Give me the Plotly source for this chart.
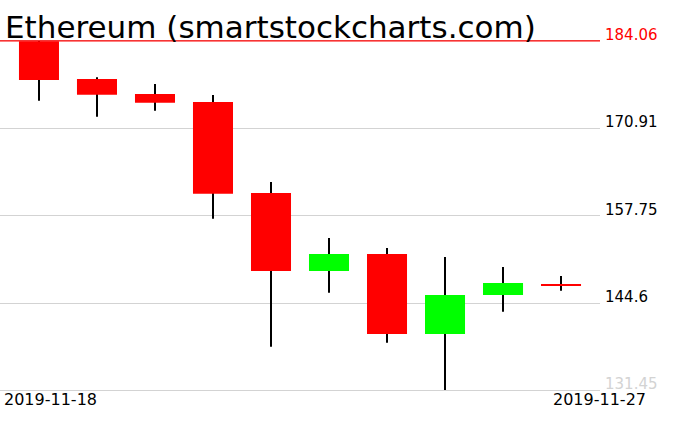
import plotly.graph_objects as go

# Daily candles
dates = ['2019-11-18', '2019-11-19', '2019-11-20', '2019-11-21', '2019-11-22',
         '2019-11-23', '2019-11-24', '2019-11-25', '2019-11-26', '2019-11-27']
opens = [184.00, 178.33, 176.07, 174.87, 161.17, 149.42, 151.98, 139.94, 145.81, 147.48]
highs = [184.06, 178.59, 177.58, 175.92, 162.82, 154.39, 152.89, 151.53, 150.02, 148.67]
lows = [175.07, 172.66, 173.56, 157.30, 138.02, 146.15, 138.63, 131.50, 143.29, 146.46]
closes = [178.18, 175.97, 174.76, 161.06, 149.42, 151.98, 139.94, 145.81, 147.62, 147.24]

# right hand price levels
level_vals = [131.45, 144.6, 157.75, 170.91, 184.06]
level_text = ['131.45', '144.6', '157.75', '170.91', '184.06']
level_colors = ['#d3d3d3', 'black', 'black', 'black', 'red']

title = 'Ethereum (smartstockcharts.com)'
font = 'DejaVu Sans'

idx = list(range(len(dates)))

# wicks as thin bars, bodies drawn over them
wick_base = lows
wick_h = [h - l for h, l in zip(highs, lows)]
body_base = [min(o, c) for o, c in zip(opens, closes)]
body_h = [abs(o - c) for o, c in zip(opens, closes)]
body_col = ['#00ff00' if c > o else '#ff0000' for o, c in zip(opens, closes)]

fig = go.Figure()
fig.add_trace(go.Bar(x=idx, y=wick_h, base=wick_base, marker_color='black',
                     marker_line_width=0, width=0.02, hoverinfo='skip'))
fig.add_trace(go.Bar(x=idx, y=body_h, base=body_base, marker_color=body_col,
                     marker_line_width=0, width=0.69))

fig.add_hline(y=level_vals[-1], line_color='red', line_width=1.2)

# price labels on the right, sitting on their gridlines
for v, t, c in zip(level_vals, level_text, level_colors):
    fig.add_annotation(x=1, xref='paper', y=v, yref='y', text=t, showarrow=False,
                       xanchor='left', yanchor='bottom', xshift=3, yshift=-5,
                       font=dict(family=font, size=15, color=c))

# first / last date, just under the lowest gridline
fig.add_annotation(x=0, xref='paper', y=level_vals[0], yref='y', text=dates[0],
                   showarrow=False, xanchor='left', yanchor='top', xshift=2, yshift=2,
                   font=dict(family=font, size=16, color='black'))
fig.add_annotation(x=1, xref='paper', y=level_vals[0], yref='y', text=dates[-1],
                   showarrow=False, xanchor='right', yanchor='top', xshift=48, yshift=2,
                   font=dict(family=font, size=16, color='black'))

fig.add_annotation(x=0, xref='paper', y=1, yref='paper', text=title, showarrow=False,
                   xanchor='left', yanchor='top', xshift=3, yshift=-7,
                   font=dict(family=font, size=31, color='black'))

fig.update_layout(
    width=676, height=431,
    margin=dict(l=0, r=76, t=0, b=0),
    plot_bgcolor='white', paper_bgcolor='white',
    showlegend=False, barmode='overlay',
    xaxis=dict(range=[-0.672, 9.672], showgrid=False, showticklabels=False,
               zeroline=False, fixedrange=True),
    yaxis=dict(range=[125.33, 190.23], tickvals=level_vals, showticklabels=False,
               gridcolor='#d3d3d3', gridwidth=1.2, zeroline=False, fixedrange=True),
)

fig.write_html('out.html', config={'displayModeBar': False},
               post_script="document.body.style.margin='0';")
